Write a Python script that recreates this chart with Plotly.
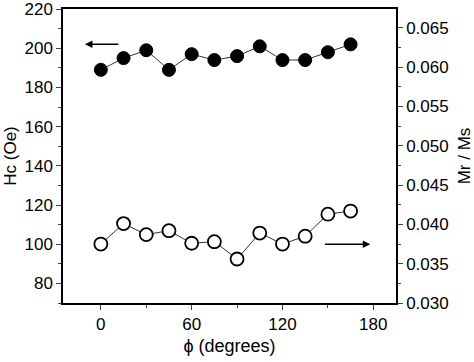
import plotly.graph_objects as go

phi = [0, 15, 30, 45, 60, 75, 90, 105, 120, 135, 150, 165]
hc = [189, 195, 199, 189, 197, 194, 196, 201, 194, 194, 198, 202]
mr_ms = [0.0375, 0.0401, 0.0387, 0.0392, 0.0376, 0.0378, 0.0356, 0.0389, 0.0375, 0.0385, 0.0413, 0.0417]

x_ticks = [0, 60, 120, 180]
font = "Liberation Sans, Arial, sans-serif"

fig = go.Figure()
fig.add_trace(go.Scatter(
    x=phi, y=hc, mode="lines+markers",
    line=dict(color="#333333", width=1),
    marker=dict(symbol="circle", size=13, color="black", line=dict(color="black", width=1)),
    yaxis="y", showlegend=False))
fig.add_trace(go.Scatter(
    x=phi, y=mr_ms, mode="lines+markers",
    line=dict(color="#333333", width=1),
    marker=dict(symbol="circle", size=13, color="white", line=dict(color="black", width=1.8)),
    yaxis="y2", showlegend=False))

fig.update_layout(
    width=474, height=362,
    margin=dict(l=63, r=78, t=9, b=59),
    paper_bgcolor="white", plot_bgcolor="white",
    font=dict(family=font, size=17, color="black"),
    xaxis=dict(range=[-25, 195], tickvals=x_ticks, ticks="outside", ticklen=5,
               showline=True, linecolor="black", linewidth=1.5, mirror=True,
               showgrid=False, zeroline=False, automargin=False,
               minor=dict(dtick=30, tick0=0, ticks="outside", ticklen=3),
               title=dict(text="ϕ (degrees)", font=dict(size=18), standoff=6)),
    yaxis=dict(range=[70, 220.05], dtick=20, tick0=80, ticks="outside", ticklen=5,
               showline=True, linecolor="black", linewidth=1.5,
               showgrid=False, zeroline=False, automargin=False,
               ticklabeloverflow="allow",
               minor=dict(dtick=10, tick0=0, ticks="outside", ticklen=3),
               title=dict(text="Hc (Oe)", font=dict(size=17), standoff=4)),
    yaxis2=dict(range=[0.030, 0.0674], dtick=0.005, tick0=0.030, tickformat=".3f",
                overlaying="y", side="right", ticks="outside", ticklen=5,
                showline=True, linecolor="black", linewidth=1.5,
                showgrid=False, zeroline=False, automargin=False,
                ticklabeloverflow="allow",
                minor=dict(dtick=0.0025, tick0=0.030, ticks="outside", ticklen=3),
                title=dict(text="Mr / Ms", font=dict(size=17), standoff=12)),
)

fig.add_annotation(x=-10.5, y=202, ax=12.5, ay=202, xref="x", yref="y", axref="x", ayref="y",
                   showarrow=True, arrowhead=2, arrowsize=1, arrowwidth=1.5, arrowcolor="black", text="")
fig.add_annotation(x=178, y=100, ax=147, ay=100, xref="x", yref="y", axref="x", ayref="y",
                   showarrow=True, arrowhead=2, arrowsize=1, arrowwidth=1.5, arrowcolor="black", text="")

fig.write_html("out.html", config={"displayModeBar": False},
               post_script="document.body.style.margin='0';document.body.style.overflow='hidden';")
